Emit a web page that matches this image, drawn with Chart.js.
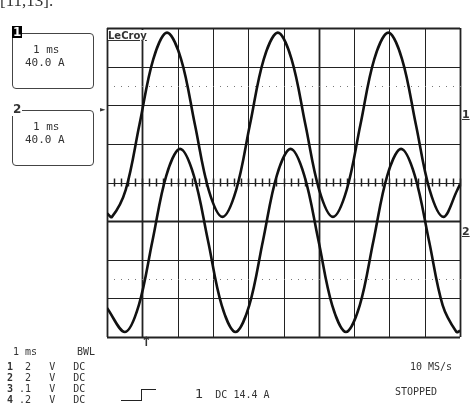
<!DOCTYPE html>
<html>
<head>
<meta charset="utf-8">
<script src="https://cdn.jsdelivr.net/npm/chart.js@4"></script>
<style>
  body { margin: 0; background: #fff; }
  #wrap { position: relative; width: 474px; height: 420px; overflow: hidden; font-family: "DejaVu Sans Mono", monospace; color: #333; }
  #wrap canvas { position: absolute; left: 0; top: 0; }
  .t { position: absolute; font-size: 10px; white-space: pre; }
  .box { position: absolute; border: 1.5px solid #444; border-radius: 4px; width: 80px; height: 54px; }
  .box .t { left: 12px; font-size: 11px; }
  .lbl { position: absolute; font: bold 12px "DejaVu Sans", sans-serif; background: #fff; padding: 0 1px; }
</style>
</head>
<body>
<div id="wrap">
  <canvas id="scope" width="474" height="420"></canvas>
  <div class="t" style="left:0;top:-9px;font:17px 'Liberation Serif',serif;">[11,13].</div>

  <div class="box" style="left:12px;top:33px;">
    <div class="t" style="top:9px;left:20px;">1 ms</div>
    <div class="t" style="top:22px;">40.0 A</div>
  </div>
  <div class="lbl" style="left:12px;top:26px;background:#000;color:#fff;line-height:12px;">1</div>
  <div class="box" style="left:12px;top:110px;">
    <div class="t" style="top:9px;left:20px;">1 ms</div>
    <div class="t" style="top:22px;">40.0 A</div>
  </div>
  <div class="lbl" style="left:12px;top:102px;">2</div>
  <div class="t" style="left:100px;top:104px;font-size:9px;">&#9658;</div>

  <div class="t" style="left:108px;top:30px;font:bold 10px 'DejaVu Sans',sans-serif;text-decoration:underline;background:#fff;">LeCroy</div>
  <div class="t" style="left:462px;top:108px;font:bold 11px 'DejaVu Sans',sans-serif;text-decoration:underline;">1</div>
  <div class="t" style="left:462px;top:225px;font:bold 11px 'DejaVu Sans',sans-serif;text-decoration:underline;">2</div>
  <div class="t" style="left:141px;top:334px;font:bold 13px 'DejaVu Sans',sans-serif;">&#8593;</div>

  <div class="t" style="left:13px;top:346px;">1 ms</div>
  <div class="t" style="left:77px;top:346px;">BWL</div>
  <div class="t" style="left:7px;top:361px;line-height:11px;"><b>1</b>  2   V   DC
<b>2</b>  2   V   DC
<b>3</b> .1   V   DC
<b>4</b> .2   V   DC</div>
  <div class="t" style="left:410px;top:361px;">10 MS/s</div>
  <div class="t" style="left:195px;top:386px;"><b style="font:13px 'DejaVu Sans',sans-serif;">1</b>  DC 14.4 A</div>
  <div class="t" style="left:395px;top:386px;">STOPPED</div>
  <div style="position:absolute;left:121px;top:389px;width:20px;height:11px;border-bottom:1.5px solid #222;"></div>
  <div style="position:absolute;left:141px;top:389px;width:14px;height:11px;border-left:1.5px solid #222;border-top:1.5px solid #222;"></div>
</div>
<script>
// time in divisions (1 ms/div), amplitude in divisions from the bottom of the screen
const xDivs = [0, 1, 2, 3, 4, 5, 6, 7, 8, 9, 10];
const yDivs = [0, 1, 2, 3, 4, 5, 6, 7, 8];

const ch1Time = [0, 0.14, 0.53, 0.92, 1.31, 1.70, 2.10, 2.49, 2.88, 3.27, 3.66, 4.05, 4.44, 4.84, 5.23, 5.62, 6.01, 6.40, 6.79, 7.18, 7.57, 7.97, 8.36, 8.75, 9.14, 9.53, 9.92, 10];
const ch1Level = [3.2, 3.11, 3.81, 5.5, 7.19, 7.88, 7.19, 5.5, 3.81, 3.11, 3.81, 5.5, 7.19, 7.88, 7.19, 5.5, 3.81, 3.11, 3.81, 5.5, 7.19, 7.88, 7.19, 5.5, 3.81, 3.11, 3.8, 3.95];

const ch2Time = [0, 0.51, 0.90, 1.29, 1.68, 2.07, 2.46, 2.86, 3.25, 3.64, 4.03, 4.42, 4.81, 5.20, 5.59, 5.99, 6.38, 6.77, 7.16, 7.55, 7.94, 8.33, 8.72, 9.12, 9.51, 9.90, 10];
const ch2Level = [0.75, 0.13, 0.82, 2.5, 4.18, 4.87, 4.18, 2.5, 0.82, 0.13, 0.82, 2.5, 4.18, 4.87, 4.18, 2.5, 0.82, 0.13, 0.82, 2.5, 4.18, 4.87, 4.18, 2.5, 0.82, 0.13, 0.16];

const dottedRows = [6.5, 1.5];
const tickRow = 4;
const thickCol = [1, 6];
const thickRow = 3;

function toPoints(xs, ys) {
    return xs.map((x, i) => ({ x: x, y: ys[i] }));
}

// grid, dotted rows and the ticked centre line of the scope screen
const screenPlugin = {
    id: 'screen',
    beforeDatasetsDraw(chart) {
        const { ctx, scales: { x, y } } = chart;
        ctx.save();
        ctx.strokeStyle = '#222';
        xDivs.forEach(v => {
            ctx.lineWidth = thickCol.includes(v) || v === 0 || v === 10 ? 1.8 : 1;
            const px = Math.round(x.getPixelForValue(v)) + 0.5;
            ctx.beginPath(); ctx.moveTo(px, y.top); ctx.lineTo(px, y.bottom); ctx.stroke();
        });
        yDivs.forEach(v => {
            ctx.lineWidth = v === thickRow || v === 0 || v === 8 ? 1.8 : 1;
            const py = Math.round(y.getPixelForValue(v)) + 0.5;
            ctx.beginPath(); ctx.moveTo(x.left, py); ctx.lineTo(x.right, py); ctx.stroke();
        });
        ctx.fillStyle = '#777';
        dottedRows.forEach(v => {
            const py = Math.round(y.getPixelForValue(v));
            for (let d = 0.2; d < 10; d += 0.2) {
                ctx.fillRect(Math.round(x.getPixelForValue(d)), py, 1, 1);
            }
        });
        ctx.lineWidth = 1.5;
        const ty = y.getPixelForValue(tickRow);
        for (let d = 0.2; d < 10; d += 0.2) {
            const px = Math.round(x.getPixelForValue(d)) + 0.5;
            ctx.beginPath(); ctx.moveTo(px, ty - 4); ctx.lineTo(px, ty + 4); ctx.stroke();
        }
        ctx.restore();
    }
};

window.addEventListener('DOMContentLoaded', () => {
    const ctx = document.getElementById('scope').getContext('2d');
    new Chart(ctx, {
        type: 'scatter',
        data: {
            datasets: [
                { data: toPoints(ch1Time, ch1Level), showLine: true, borderColor: '#111', borderWidth: 2.6, pointRadius: 0, tension: 0.35 },
                { data: toPoints(ch2Time, ch2Level), showLine: true, borderColor: '#111', borderWidth: 2.6, pointRadius: 0, tension: 0.35 }
            ]
        },
        options: {
            responsive: false,
            animation: false,
            layout: { padding: { left: 107, top: 28, right: 14, bottom: 83 } },
            plugins: { legend: { display: false }, tooltip: { enabled: false } },
            scales: {
                x: { type: 'linear', min: 0, max: 10, display: false },
                y: { type: 'linear', min: 0, max: 8, display: false }
            }
        },
        plugins: [screenPlugin]
    });
});
</script>
</body>
</html>
